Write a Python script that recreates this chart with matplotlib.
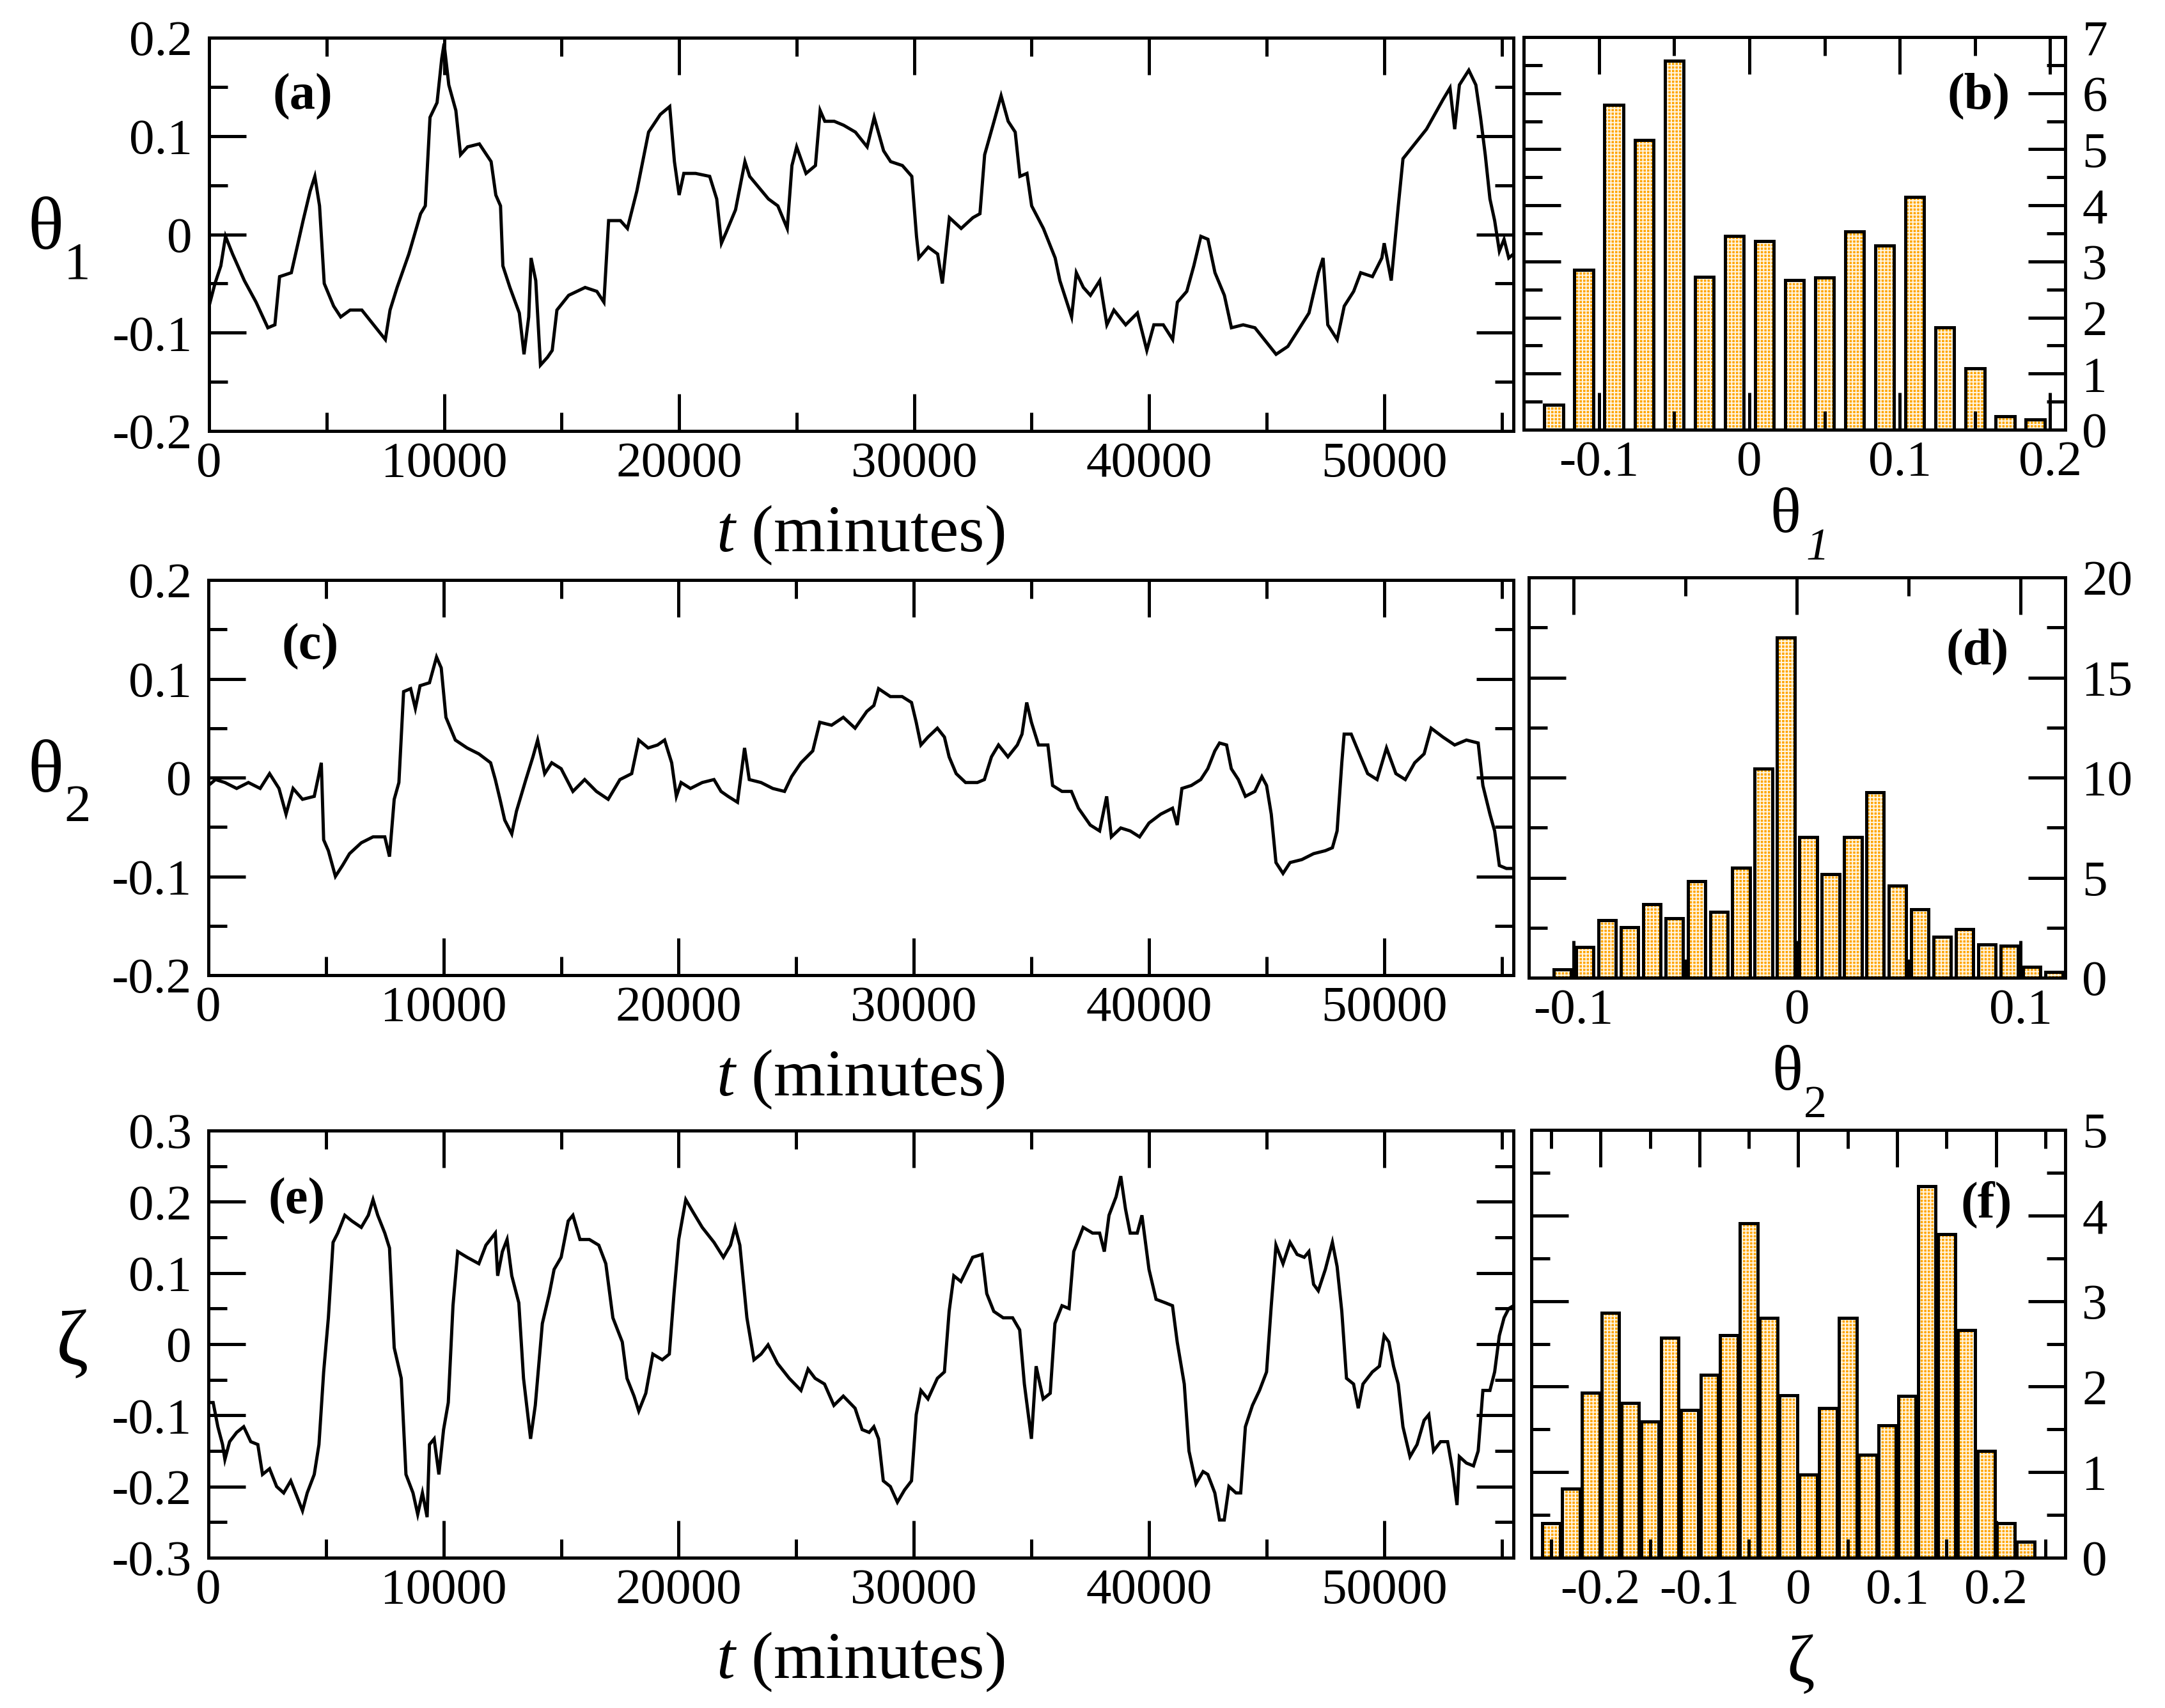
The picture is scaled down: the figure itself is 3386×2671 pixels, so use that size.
import matplotlib
matplotlib.use('Agg')
import matplotlib.pyplot as plt
from matplotlib.ticker import MultipleLocator, FuncFormatter

plt.rcParams['font.family'] = ['Liberation Serif', 'DejaVu Serif']
plt.rcParams['mathtext.fontset'] = 'custom'
plt.rcParams['mathtext.rm'] = 'Liberation Serif'
plt.rcParams['mathtext.it'] = 'Liberation Serif:italic'
plt.rcParams['axes.unicode_minus'] = False
plt.rcParams['hatch.linewidth'] = 1.4

# ---- time series ----
a_t = [0, 250, 500, 700, 1000, 1500, 2000, 2500, 2800, 3000,
       3500, 4000, 4300, 4500, 4700, 4900, 5300, 5600, 6000, 6500,
       7000, 7500, 7700, 8000, 8500, 9000, 9200, 9400, 9700, 9900,
       10000, 10200, 10500, 10700, 11000, 11500, 12000, 12200, 12400, 12500,
       12800, 13200, 13400, 13600, 13700, 13900, 14100, 14400, 14600, 14800,
       15300, 16000, 16500, 16800, 17000, 17500, 17800, 18200, 18700, 19200,
       19600, 19800, 20000, 20200, 20700, 21300, 21600, 21800, 22000, 22400,
       22800, 23000, 23800, 24200, 24600, 24800, 25000, 25400, 25800, 26000,
       26200, 26600, 27000, 27500, 28000, 28300, 28700, 29000, 29500, 29900,
       30100, 30200, 30600, 31000, 31200, 31500, 32000, 32500, 32800, 33000,
       33400, 33700, 34000, 34300, 34500, 34800, 35000, 35500, 36000, 36200,
       36700, 36900, 37200, 37500, 37900, 38200, 38500, 39000, 39500, 39900,
       40200, 40600, 41000, 41200, 41600, 41900, 42200, 42500, 42800, 43200,
       43500, 44000, 44500, 45000, 45400, 45900, 46300, 46800, 47200, 47400,
       47600, 48000, 48300, 48700, 49000, 49500, 49900, 50000, 50300, 50600,
       50800, 51200, 51800, 52500, 52800, 53000, 53200, 53600, 53900, 54100,
       54300, 54500, 54700, 54900, 55100, 55300, 55500]
a_theta1 = [-0.073, -0.05, -0.032, -0.002, -0.02, -0.047, -0.069, -0.095, -0.092, -0.043,
            -0.039, 0.014, 0.044, 0.059, 0.029, -0.05, -0.073, -0.084, -0.077, -0.077,
            -0.092, -0.107, -0.077, -0.054, -0.02, 0.021, 0.029, 0.119, 0.134, 0.179,
            0.194, 0.152, 0.126, 0.081, 0.089, 0.092, 0.074, 0.04, 0.029, -0.032,
            -0.054, -0.08, -0.122, -0.084, -0.024, -0.047, -0.133, -0.125, -0.118, -0.077,
            -0.062, -0.054, -0.058, -0.069, 0.014, 0.014, 0.006, 0.044, 0.104, 0.122,
            0.13, 0.074, 0.04, 0.062, 0.062, 0.059, 0.036, -0.009, 0.002, 0.025,
            0.074, 0.059, 0.036, 0.029, 0.006, 0.07, 0.089, 0.062, 0.07, 0.126,
            0.115, 0.115, 0.111, 0.104, 0.089, 0.119, 0.085, 0.074, 0.07, 0.059,
            -0.002, -0.024, -0.013, -0.02, -0.05, 0.017, 0.006, 0.017, 0.021, 0.081,
            0.115, 0.141, 0.115, 0.104, 0.059, 0.062, 0.029, 0.006, -0.024, -0.047,
            -0.084, -0.039, -0.054, -0.062, -0.047, -0.092, -0.077, -0.092, -0.08, -0.118,
            -0.092, -0.092, -0.107, -0.069, -0.058, -0.032, -0.002, -0.005, -0.039, -0.062,
            -0.095, -0.092, -0.095, -0.11, -0.122, -0.114, -0.099, -0.08, -0.039, -0.024,
            -0.092, -0.107, -0.073, -0.058, -0.039, -0.043, -0.024, -0.009, -0.047, 0.029,
            0.077, 0.089, 0.107, 0.137, 0.149, 0.107, 0.152, 0.167, 0.152, 0.119,
            0.081, 0.036, 0.014, -0.017, -0.005, -0.024, -0.02]

c_t = [0, 300, 700, 1200, 1700, 2200, 2600, 3000, 3300, 3600,
       4000, 4500, 4800, 4900, 5100, 5400, 5700, 6000, 6500, 7000,
       7500, 7700, 7900, 8100, 8300, 8600, 8800, 9000, 9400, 9700,
       9900, 10100, 10500, 11000, 11500, 12000, 12200, 12400, 12600, 12900,
       13100, 13500, 13800, 14000, 14300, 14600, 15000, 15500, 16000, 16500,
       17000, 17500, 18000, 18300, 18700, 19100, 19400, 19700, 19900, 20100,
       20500, 21000, 21500, 21800, 22100, 22500, 22800, 23000, 23500, 24000,
       24500, 24800, 25200, 25700, 26000, 26500, 27000, 27500, 28000, 28300,
       28500, 29000, 29500, 29900, 30100, 30300, 30600, 31000, 31300, 31500,
       31800, 32200, 32700, 33000, 33300, 33600, 34000, 34400, 34600, 34800,
       35000, 35300, 35700, 35900, 36300, 36700, 37000, 37500, 37900, 38200,
       38400, 38800, 39200, 39600, 40000, 40500, 41000, 41200, 41400, 41800,
       42200, 42500, 42800, 43000, 43300, 43500, 43800, 44100, 44500, 44800,
       45000, 45200, 45400, 45700, 46000, 46500, 47000, 47500, 47800, 48000,
       48200, 48300, 48600, 49000, 49300, 49700, 50100, 50500, 50900, 51300,
       51700, 52000, 52500, 53000, 53500, 54000, 54200, 54500, 54700, 54900,
       55200, 55500]
c_theta2 = [-0.008, -0.002, -0.005, -0.011, -0.005, -0.011, 0.004, -0.011, -0.037, -0.011,
            -0.022, -0.019, 0.015, -0.063, -0.074, -0.1, -0.089, -0.077, -0.066, -0.06,
            -0.06, -0.08, -0.022, -0.005, 0.087, 0.09, 0.07, 0.093, 0.096, 0.122,
            0.111, 0.061, 0.038, 0.03, 0.024, 0.015, -0.002, -0.022, -0.043, -0.057,
            -0.034, -0.002, 0.021, 0.038, 0.004, 0.015, 0.009, -0.014, -0.002, -0.014,
            -0.022, -0.002, 0.004, 0.038, 0.03, 0.033, 0.038, 0.015, -0.019, -0.005,
            -0.011, -0.005, -0.002, -0.014, -0.019, -0.025, 0.03, -0.002, -0.005, -0.011,
            -0.014, 0.001, 0.015, 0.027, 0.056, 0.053, 0.061, 0.05, 0.067, 0.073,
            0.09, 0.082, 0.082, 0.076, 0.056, 0.033, 0.041, 0.05, 0.041, 0.021,
            0.004, -0.005, -0.005, -0.002, 0.021, 0.033, 0.021, 0.033, 0.044, 0.076,
            0.056, 0.033, 0.033, -0.008, -0.014, -0.014, -0.031, -0.048, -0.054, -0.019,
            -0.06, -0.051, -0.054, -0.06, -0.046, -0.037, -0.031, -0.048, -0.011, -0.008,
            -0.002, 0.009, 0.027, 0.035, 0.033, 0.009, -0.002, -0.019, -0.014, 0.001,
            -0.008, -0.037, -0.086, -0.097, -0.086, -0.083, -0.077, -0.074, -0.071, -0.054,
            0.015, 0.044, 0.044, 0.021, 0.004, -0.002, 0.03, 0.004, -0.002, 0.015,
            0.024, 0.05, 0.041, 0.033, 0.038, 0.035, -0.008, -0.037, -0.054, -0.089,
            -0.092, -0.092]

e_t = [0, 200, 400, 600, 700, 900, 1200, 1500, 1800, 2100,
       2300, 2600, 2900, 3200, 3500, 3800, 4000, 4200, 4500, 4700,
       4900, 5100, 5300, 5500, 5800, 6100, 6500, 6800, 7000, 7200,
       7500, 7700, 7900, 8200, 8400, 8700, 8900, 9100, 9300, 9400,
       9600, 9800, 10000, 10200, 10400, 10600, 11000, 11500, 11800, 12200,
       12300, 12500, 12700, 12900, 13200, 13400, 13700, 13900, 14200, 14500,
       14700, 15000, 15300, 15500, 15800, 16200, 16600, 16900, 17200, 17600,
       17800, 18100, 18300, 18600, 18900, 19300, 19600, 19800, 20000, 20300,
       20600, 21000, 21500, 21900, 22200, 22400, 22600, 22900, 23200, 23500,
       23800, 24200, 24700, 25200, 25500, 25800, 26200, 26600, 27000, 27500,
       27800, 28100, 28300, 28500, 28700, 29000, 29300, 29600, 29900, 30100,
       30300, 30600, 31000, 31300, 31500, 31700, 32000, 32500, 32900, 33100,
       33400, 33800, 34200, 34500, 34700, 35000, 35200, 35500, 35800, 36000,
       36300, 36600, 36800, 37200, 37600, 37900, 38100, 38300, 38600, 38800,
       39000, 39200, 39500, 39700, 40000, 40300, 40700, 41000, 41200, 41500,
       41700, 42000, 42300, 42500, 42800, 43000, 43200, 43400, 43700, 43900,
       44100, 44400, 44700, 45000, 45200, 45400, 45700, 46000, 46300, 46600,
       46800, 47000, 47200, 47500, 47800, 48000, 48200, 48400, 48700, 48900,
       49100, 49500, 49800, 50000, 50200, 50400, 50600, 50800, 51100, 51400,
       51700, 51900, 52100, 52400, 52700, 52900, 53100, 53200, 53500, 53800,
       54000, 54200, 54500, 54700, 54900, 55100, 55300, 55500]
e_zeta = [-0.082, -0.082, -0.116, -0.141, -0.162, -0.137, -0.124, -0.116, -0.137, -0.141,
          -0.183, -0.175, -0.2, -0.209, -0.192, -0.217, -0.234, -0.209, -0.183, -0.141,
          -0.039, 0.037, 0.143, 0.156, 0.181, 0.173, 0.164, 0.181, 0.203, 0.181,
          0.156, 0.135, -0.005, -0.048, -0.183, -0.209, -0.239, -0.209, -0.243, -0.141,
          -0.133, -0.183, -0.12, -0.082, 0.054, 0.13, 0.122, 0.113, 0.139, 0.156,
          0.096, 0.13, 0.147, 0.096, 0.058, -0.048, -0.133, -0.086, 0.029, 0.071,
          0.105, 0.122, 0.173, 0.181, 0.147, 0.147, 0.139, 0.113, 0.037, 0.003,
          -0.048, -0.073, -0.094, -0.069, -0.014, -0.022, -0.014, 0.071, 0.147, 0.203,
          0.186, 0.164, 0.143, 0.122, 0.139, 0.164, 0.139, 0.037, -0.022, -0.014,
          -0.001, -0.027, -0.048, -0.065, -0.035, -0.048, -0.056, -0.086, -0.073, -0.09,
          -0.12, -0.124, -0.116, -0.133, -0.192, -0.2, -0.222, -0.205, -0.192, -0.099,
          -0.065, -0.077, -0.048, -0.039, 0.046, 0.096, 0.088, 0.122, 0.126, 0.071,
          0.046, 0.037, 0.037, 0.02, -0.056, -0.133, -0.031, -0.077, -0.069, 0.029,
          0.054, 0.05, 0.13, 0.164, 0.156, 0.156, 0.13, 0.181, 0.207, 0.236,
          0.19, 0.156, 0.156, 0.181, 0.105, 0.063, 0.058, 0.054, 0.003, -0.056,
          -0.15, -0.196, -0.179, -0.183, -0.209, -0.247, -0.247, -0.2, -0.209, -0.209,
          -0.116, -0.086, -0.065, -0.039, 0.054, 0.139, 0.113, 0.143, 0.126, 0.122,
          0.13, 0.084, 0.075, 0.105, 0.143, 0.109, 0.046, -0.048, -0.056, -0.09,
          -0.056, -0.039, -0.031, 0.012, 0.003, -0.031, -0.056, -0.116, -0.158, -0.141,
          -0.107, -0.099, -0.15, -0.137, -0.137, -0.175, -0.226, -0.158, -0.167, -0.171,
          -0.15, -0.065, -0.065, -0.039, 0.012, 0.037, 0.05, 0.054]

# ---- histograms ----
b_bins = [-0.13, -0.11, -0.09, -0.07, -0.05, -0.03, -0.01, 0.01, 0.03,
          0.05, 0.07, 0.09, 0.11, 0.13, 0.15, 0.17, 0.19]
b_density = [0.44, 2.85, 5.79, 5.17, 6.58, 2.73, 3.45, 3.36, 2.67,
             2.71, 3.53, 3.28, 4.15, 1.82, 1.09, 0.24, 0.18]

d_bins = [-0.105, -0.095, -0.085, -0.075, -0.065, -0.055, -0.045, -0.035,
          -0.025, -0.015, -0.005, 0.005, 0.015, 0.025, 0.035, 0.045, 0.055,
          0.065, 0.075, 0.085, 0.095, 0.105, 0.115]
d_density = [0.42, 1.52, 2.87, 2.53, 3.69, 2.98, 4.84, 3.29,
             5.5, 10.45, 16.99, 7.02, 5.16, 7.02, 9.27, 4.6, 3.43,
             2.04, 2.42, 1.66, 1.59, 0.55, 0.28]

f_bins = [-0.25, -0.23, -0.21, -0.19, -0.17, -0.15, -0.13, -0.11, -0.09,
          -0.07, -0.05, -0.03, -0.01, 0.01, 0.03, 0.05, 0.07, 0.09, 0.11,
          0.13, 0.15, 0.17, 0.19, 0.21, 0.23]
f_density = [0.4, 0.81, 1.93, 2.86, 1.81, 1.59, 2.57, 1.73, 2.14,
             2.6, 3.91, 2.8, 1.9, 0.97, 1.75, 2.8, 1.2, 1.55, 1.89,
             4.34, 3.78, 2.66, 1.25, 0.4, 0.19]

W, H = 3387, 2671
fig = plt.figure(figsize=(W / 100, H / 100), dpi=100)


def box(l, r, t, b):
    return [l / W, 1 - b / H, (r - l) / W, (b - t) / H]


def px(x, y):
    return x / W, 1 - y / H


fmt = FuncFormatter(lambda v, p: '0' if abs(v) < 1e-9 else '%g' % round(v, 6))


def style(ax, xmaj, xmin, ymaj, ymin, right_labels=False):
    ax.xaxis.set_major_locator(MultipleLocator(xmaj))
    ax.xaxis.set_minor_locator(MultipleLocator(xmin))
    ax.yaxis.set_major_locator(MultipleLocator(ymaj))
    ax.yaxis.set_minor_locator(MultipleLocator(ymin))
    ax.xaxis.set_major_formatter(fmt)
    ax.yaxis.set_major_formatter(fmt)
    ax.tick_params(which='both', direction='in', top=True, right=True,
                   bottom=True, left=True, width=3.6, labelsize=57)
    ax.tick_params(which='major', length=42)
    ax.tick_params(which='minor', length=21)
    ax.tick_params(axis='x', pad=12)
    ax.tick_params(axis='y', pad=19)
    if right_labels:
        ax.tick_params(axis='y', labelleft=False, labelright=True)
    for s in ax.spines.values():
        s.set_linewidth(3.6)


def series(ax, t, v, ylim, label, pos):
    ax.plot(t, v, color='black', lw=3.6, solid_joinstyle='miter')
    ax.set_xlim(0, 55500)
    ax.set_ylim(*ylim)
    style(ax, 10000, 5000, 0.1, 0.05)
    ax.text(pos[0], pos[1], label, transform=ax.transAxes, fontsize=58,
            fontweight='bold', ha='left', va='baseline')


def hist(ax, x, h, w, xlim, ylim, ticks, label, pos):
    # orange fill with a fine light grid, then the black outline on top
    ax.bar(x, h, width=w, color='#FFA500', edgecolor='#FFF6E6', linewidth=0,
           hatch='+++', zorder=1)
    ax.bar(x, h, width=w, fill=False, edgecolor='black', linewidth=3.6, zorder=1.5)
    ax.set_xlim(*xlim)
    ax.set_ylim(*ylim)
    style(ax, *ticks, right_labels=True)
    ax.text(pos[0], pos[1], label, transform=ax.transAxes, fontsize=58,
            fontweight='bold', ha='right', va='baseline')


ax_a = fig.add_axes(box(327, 2367, 59, 674))
series(ax_a, a_t, a_theta1, (-0.2, 0.2), '(a)', (0.049, 0.818))
ax_c = fig.add_axes(box(326, 2367, 907, 1525))
series(ax_c, c_t, c_theta2, (-0.2, 0.2), '(c)', (0.056, 0.799))
ax_e = fig.add_axes(box(326, 2367, 1768, 2436))
series(ax_e, e_t, e_zeta, (-0.3, 0.3), '(e)', (0.046, 0.805))

ax_b = fig.add_axes(box(2383, 3230, 58, 672))
hist(ax_b, b_bins, b_density, 0.0125, (-0.15, 0.21), (0, 7),
     (0.1, 0.05, 1, 0.5), '(b)', (0.898, 0.818))
ax_d = fig.add_axes(box(2391, 3230, 903, 1529))
hist(ax_d, d_bins, d_density, 0.0078, (-0.12, 0.12), (0, 20),
     (0.1, 0.05, 5, 2.5), '(d)', (0.895, 0.783))
ax_f = fig.add_axes(box(2395, 3230, 1767, 2436))
hist(ax_f, f_bins, f_density, 0.0178, (-0.27, 0.27), (0, 5),
     (0.1, 0.05, 1, 0.5), '(f)', (0.901, 0.795))

# axis labels
for yb in (862, 1713, 2624):
    fig.text(*px(1346, yb), r'$\mathit{t}$ (minutes)', ha='center',
             va='baseline', fontsize=75)

fig.text(*px(44, 389), 'θ', fontsize=84, ha='left', va='baseline')
fig.text(*px(100, 435), '1', fontsize=60, ha='left', va='baseline')
fig.text(*px(44, 1238), 'θ', fontsize=84, ha='left', va='baseline')
fig.text(*px(100, 1284), '2', fontsize=60, ha='left', va='baseline')
fig.text(*px(88, 2135), 'ζ', fontsize=88, ha='left', va='baseline')

fig.text(*px(2768, 832), 'θ', fontsize=72, ha='left', va='baseline')
fig.text(*px(2824, 875), '1', fontsize=52, style='italic', ha='left', va='baseline')
fig.text(*px(2771, 1704), 'θ', fontsize=72, ha='left', va='baseline')
fig.text(*px(2821, 1747), '2', fontsize=52, ha='left', va='baseline')
fig.text(*px(2794, 2630), 'ζ', fontsize=76, ha='left', va='baseline')

fig.savefig('out.png', dpi=100)
